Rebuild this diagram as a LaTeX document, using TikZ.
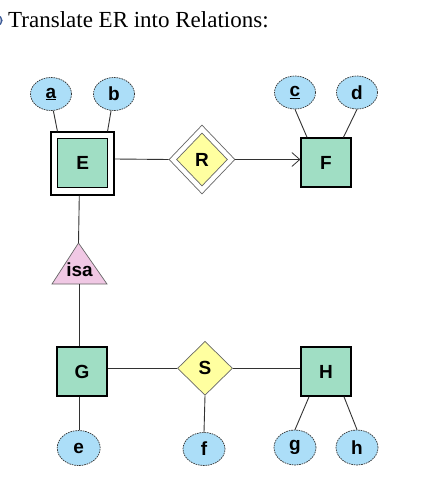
\documentclass[tikz,border=0pt]{standalone}
\usepackage{fontspec}
\setmainfont{Liberation Serif}
\newfontfamily\lab{Liberation Sans}
\usetikzlibrary{shapes.geometric,arrows.meta,calc}
\definecolor{entfill}{RGB}{160,222,196}
\definecolor{attfill}{RGB}{172,222,248}
\definecolor{relfill}{RGB}{255,255,160}
\definecolor{isafill}{RGB}{240,200,228}
\definecolor{linec}{RGB}{50,50,50}
\definecolor{bullet}{RGB}{60,90,150}
\tikzset{
  lbl/.style={font=\lab\bfseries\fontsize{19}{19}\selectfont},
  attr/.style={ellipse,draw=black!80,dash pattern=on 1.6pt off 0.9pt,line width=0.7pt,fill=attfill,minimum width=41pt,minimum height=33pt,inner sep=0pt,lbl},
  ent/.style={rectangle,draw=black,line width=1.2pt,fill=entfill,minimum width=50pt,minimum height=49pt,inner sep=0pt,lbl},
  rel/.style={diamond,draw=black!60,line width=0.7pt,fill=relfill,inner sep=0pt,lbl},
  conn/.style={draw=linec,line width=0.9pt},
}
\begin{document}
\begin{tikzpicture}[x=1pt,y=-1pt]
\useasboundingbox (0,0) rectangle (429,486);
% partial bullet at the left edge
\draw[bullet,line width=1.2pt,fill=bullet!40] (-3,20.5) circle (5);
\node[anchor=base west,inner sep=0pt,font=\fontsize{23}{26}\selectfont] (title) at (8,28) {Translate ER into Relations:};

% entity E (weak: double box)
\node[rectangle,draw=black,line width=1.2pt,fill=white,minimum width=63pt,minimum height=63pt,inner sep=0pt] (Eo) at (82.5,163.5) {};
\node[ent] (E) at (82.8,163) {E};
\node[attr] (a) at (51,94) {\underline{a}};
\node[attr] (b) at (114,94) {b};

% relationship R (double diamond)
\node[rel,fill=white,minimum width=66pt,minimum height=69pt] (Ro) at (202,159.5) {};
\node[rel,minimum width=51pt,minimum height=53pt] (R) at (202,159.5) {R};

% entity F
\node[ent] (F) at (326,162.5) {F};
\node[attr] (c) at (295,92.5) {\underline{c}};
\node[attr] (d) at (357,92.5) {d};

% isa triangle
\coordinate (isatop) at (78.5,243);
\coordinate (isabot) at (79.3,284);
\filldraw[fill=isafill,draw=black!60,line width=0.7pt] (isatop) -- (107,284) -- (52,284) -- cycle;
\node[lbl,inner sep=0pt] (isa) at (79.5,270) {isa};

% entities G, H and relationship S
\node[ent] (G) at (82,371.5) {G};
\node[ent] (H) at (326,371.5) {H};
\node[rel,minimum width=55pt,minimum height=54pt] (S) at (205,368.3) {S};

\node[attr,minimum width=43pt,minimum height=35pt] (e) at (78.7,448) {e};
\node[attr,minimum width=42pt,minimum height=33pt] (f) at (204,449) {f};
\node[attr,minimum width=42pt,minimum height=35pt] (g) at (295,447.5) {g};
\node[attr,minimum width=42pt,minimum height=35pt] (h) at (357,447.5) {h};

% connectors
\draw[conn] (a.-82) -- ($(Eo.north west)!0.11!(Eo.north east)$);
\draw[conn] (b.-100) -- ($(Eo.north west)!0.89!(Eo.north east)$);
\draw[conn] (c.south) -- ($(F.north west)!0.13!(F.north east)$);
\draw[conn] (d.south) -- ($(F.north west)!0.84!(F.north east)$);
\draw[conn] (Eo.east |- 0,159) -- (Ro.west);
\draw[conn,-{Straight Barb[length=8pt,width=14pt,line width=0.8pt]}] (Ro.east) -- (F.west |- Ro.east);
\draw[conn] ($(Eo.south west)!0.45!(Eo.south east)$) -- (isatop);
\draw[conn] (isabot) -- (isabot |- G.north);
\draw[conn] (G.east |- S.west) -- (S.west);
\draw[conn] (S.east) -- (H.west |- S.east);
\draw[conn] (S.south) -- (f.north);
\draw[conn] (e.north -| 79.3,0) -- (79.3,0 |- G.south);
\draw[conn] ($(H.south west)!0.17!(H.south east)$) -- (g.north);
\draw[conn] ($(H.south west)!0.85!(H.south east)$) -- (h.north);
\end{tikzpicture}
\end{document}
